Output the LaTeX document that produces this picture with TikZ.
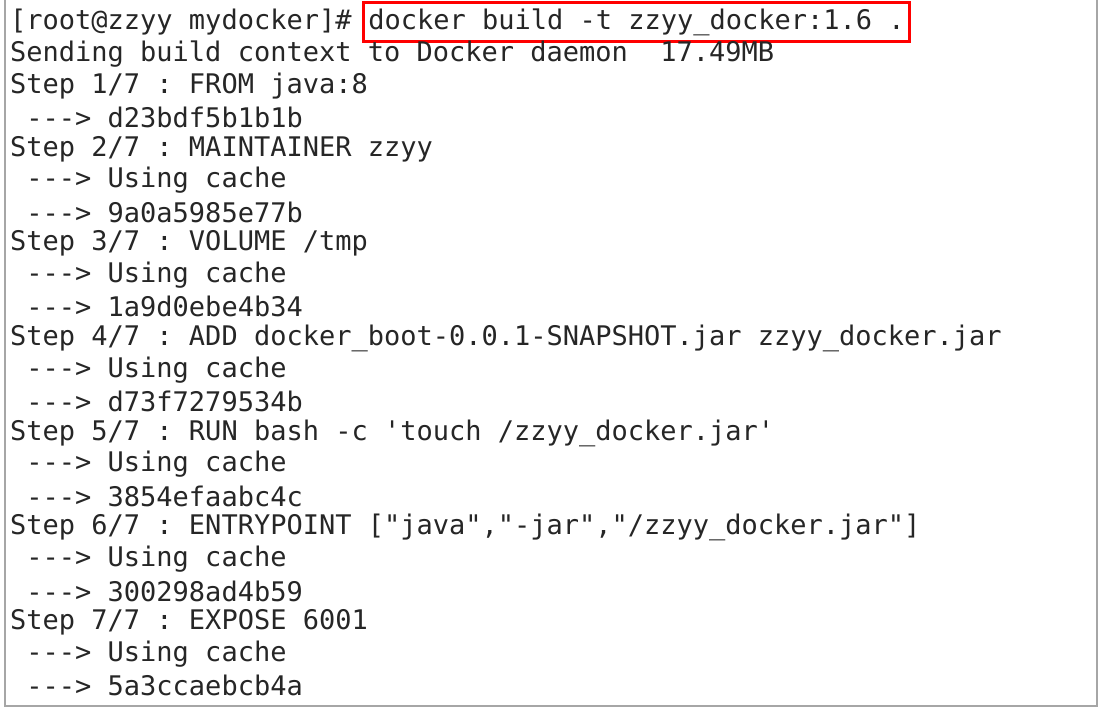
\documentclass[tikz,border=0pt]{standalone}
\usepackage{fontspec}
\setmonofont{DejaVu Sans Mono}
\usetikzlibrary{positioning}

\tikzset{
  line/.style={anchor=west, inner sep=0pt, font=\ttfamily\fontsize{27}{30}\selectfont, text=black!85},
  cmdbox/.style={line, draw=red, line width=3pt, inner xsep=5pt, inner ysep=6pt}
}

\begin{document}
\begin{tikzpicture}[x=1pt,y=-1pt]
	\useasboundingbox (0,0) rectangle (1104,708);
	\fill[white] (0,0) rectangle (1104,708);
	\draw[gray!70, line width=1.5pt] (5,0)--(5,706)--(1097,706)--(1097,0);

	\node[line] (prompt) at (10,22) {[root@zzyy mydocker]\#};
	\node[cmdbox, right=10pt of prompt] (cmd) {docker build -t zzyy\_docker:1.6 .};

	\node[line] (l2) at (10,54) {Sending build context to Docker daemon\ \ 17.49MB};
	\node[line] (l3) at (10,86) {Step 1/7 : FROM java:8};
	\node[line] (l4) at (10,117) {\ ---> d23bdf5b1b1b};
	\node[line] (l5) at (10,149) {Step 2/7 : MAINTAINER zzyy};
	\node[line] (l6) at (10,180) {\ ---> Using cache};
	\node[line] (l7) at (10,212) {\ ---> 9a0a5985e77b};
	\node[line] (l8) at (10,243) {Step 3/7 : VOLUME /tmp};
	\node[line] (l9) at (10,275) {\ ---> Using cache};
	\node[line] (l10) at (10,306) {\ ---> 1a9d0ebe4b34};
	\node[line] (l11) at (10,338) {Step 4/7 : ADD docker\_boot-0.0.1-SNAPSHOT.jar zzyy\_docker.jar};
	\node[line] (l12) at (10,370) {\ ---> Using cache};
	\node[line] (l13) at (10,401) {\ ---> d73f7279534b};
	\node[line] (l14) at (10,433) {Step 5/7 : RUN bash -c 'touch /zzyy\_docker.jar'};
	\node[line] (l15) at (10,464) {\ ---> Using cache};
	\node[line] (l16) at (10,496) {\ ---> 3854efaabc4c};
	\node[line] (l17) at (10,527) {Step 6/7 : ENTRYPOINT ["java","-jar","/zzyy\_docker.jar"]};
	\node[line] (l18) at (10,559) {\ ---> Using cache};
	\node[line] (l19) at (10,591) {\ ---> 300298ad4b59};
	\node[line] (l20) at (10,622) {Step 7/7 : EXPOSE 6001};
	\node[line] (l21) at (10,654) {\ ---> Using cache};
	\node[line] (l22) at (10,685) {\ ---> 5a3ccaebcb4a};
\end{tikzpicture}
\end{document}
